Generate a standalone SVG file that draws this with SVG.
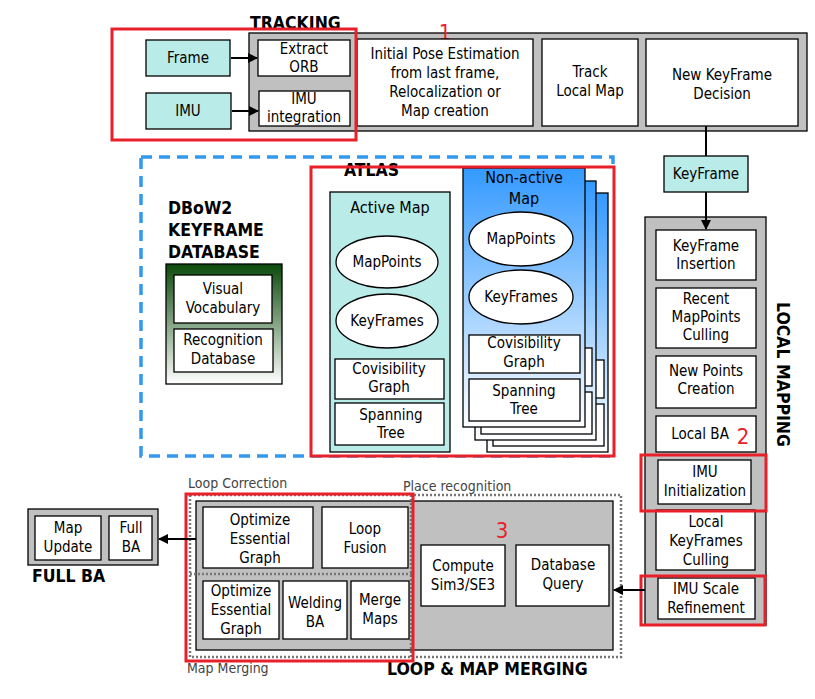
<svg xmlns="http://www.w3.org/2000/svg" width="815" height="699" viewBox="0 0 815 699">
<style>
text{font-family:"DejaVu Sans Condensed","DejaVu Sans",sans-serif;font-size:15px;fill:#000;text-anchor:middle}
.b{font-weight:bold;font-size:17.5px;text-anchor:start}
.w{fill:#fff;stroke:#000;stroke-width:1.3}
.t{fill:#b9ebe8;stroke:#000;stroke-width:1.3}
.g{fill:#c0c0c0;stroke:#000;stroke-width:1.3}
.r{fill:none;stroke:#e8202a;stroke-width:3}
.n{fill:#e8202a;font-size:22px}
.lbl{fill:#444;text-anchor:start;font-size:14px}
.c{stroke:#000;stroke-width:2;fill:none}
</style>
<defs>
<marker id="a" viewBox="0 0 10 10" refX="9" refY="5" markerWidth="5" markerHeight="5" orient="auto"><path d="M0,0L10,5L0,10z"/></marker>
<linearGradient id="gb" x1="0" y1="0" x2="0" y2="1"><stop offset="0" stop-color="#3399ff"/><stop offset="1" stop-color="#fff"/></linearGradient>
<linearGradient id="gg" x1="0" y1="0" x2="0" y2="1"><stop offset="0" stop-color="#0b4a0b"/><stop offset="1" stop-color="#fff"/></linearGradient>
</defs>

<g id="tracking">
<rect class="g" x="249" y="33" width="558" height="98"/>
<text class="b" x="250" y="29">TRACKING</text>
<text class="n" x="445" y="40">1</text>
</g>
<g id="frame"><rect class="t" x="146" y="40" width="84" height="36"/><text x="188" y="63">Frame</text></g>
<g id="imu"><rect class="t" x="146" y="93" width="85" height="36"/><text x="188" y="116">IMU</text></g>
<g id="orb"><rect class="w" x="258" y="40" width="92" height="36"/><text x="304" y="54">Extract</text><text x="304" y="72">ORB</text></g>
<g id="imuint"><rect class="w" x="259" y="91" width="91" height="35"/><text x="304" y="104">IMU</text><text x="304" y="122">integration</text></g>
<g id="initpose"><rect class="w" x="357" y="39" width="176" height="87"/><text x="445" y="59">Initial Pose Estimation</text><text x="445" y="78">from last frame,</text><text x="445" y="97">Relocalization or</text><text x="445" y="116">Map creation</text></g>
<g id="tlm"><rect class="w" x="542" y="39" width="96" height="87"/><text x="590" y="77">Track</text><text x="590" y="96">Local Map</text></g>
<g id="nkd"><rect class="w" x="646" y="39" width="152" height="87"/><text x="722" y="80">New KeyFrame</text><text x="722" y="99">Decision</text></g>
<rect class="r" x="112" y="29" width="244" height="111"/>

<g id="keyframe"><rect class="t" x="664" y="156" width="84" height="36"/><text x="706" y="179">KeyFrame</text></g>

<g id="localmapping">
<rect class="g" x="645" y="217" width="121" height="408"/>
<text class="b" x="0" y="0" transform="translate(777,302) rotate(90)">LOCAL MAPPING</text>
<rect class="w" x="656" y="230" width="100" height="50"/><text x="706" y="251">KeyFrame</text><text x="706" y="269">Insertion</text>
<rect class="w" x="656" y="288" width="100" height="60"/><text x="706" y="304">Recent</text><text x="706" y="322">MapPoints</text><text x="706" y="340">Culling</text>
<rect class="w" x="656" y="356" width="100" height="52"/><text x="706" y="376">New Points</text><text x="706" y="394">Creation</text>
<rect class="w" x="656" y="416" width="100" height="36"/><text x="700" y="439">Local BA</text>
<text class="n" x="743" y="444">2</text>
<rect class="w" x="658" y="460" width="93" height="44"/><text x="705" y="477">IMU</text><text x="705" y="496">Initialization</text>
<rect class="w" x="656" y="510" width="99" height="60"/><text x="706" y="527">Local</text><text x="706" y="546">KeyFrames</text><text x="706" y="565">Culling</text>
<rect class="w" x="658" y="578" width="97" height="41"/><text x="706" y="594">IMU Scale</text><text x="706" y="613">Refinement</text>
<rect class="r" x="641" y="455" width="125" height="56"/>
<rect class="r" x="641" y="576" width="124" height="49"/>
</g>

<g id="dbow">
<rect x="141" y="157" width="472" height="299" fill="none" stroke="#3399ee" stroke-width="3.5" stroke-dasharray="11,7"/>
<text class="b" x="168" y="214">DBoW2</text><text class="b" x="168" y="236">KEYFRAME</text><text class="b" x="168" y="258">DATABASE</text>
<rect x="166" y="264" width="116" height="120" fill="url(#gg)" stroke="#000" stroke-width="1.3"/>
<rect class="w" x="174" y="275" width="98" height="48"/><text x="223" y="294">Visual</text><text x="223" y="313">Vocabulary</text>
<rect class="w" x="174" y="329" width="99" height="43"/><text x="223" y="345">Recognition</text><text x="223" y="364">Database</text>
</g>

<g id="atlas">
<rect x="310" y="166" width="305" height="291" fill="#fff"/>
<text class="b" x="344" y="176">ATLAS</text>
<rect class="t" x="330" y="192" width="120" height="260"/>
<text x="390" y="213" style="font-size:16px">Active Map</text>
<ellipse class="w" cx="387" cy="262" rx="51" ry="26"/><text x="387" y="267">MapPoints</text>
<ellipse class="w" cx="387" cy="321" rx="51" ry="27"/><text x="387" y="326">KeyFrames</text>
<rect class="w" x="335" y="359" width="109" height="40"/><text x="389" y="374">Covisibility</text><text x="389" y="392">Graph</text>
<rect class="w" x="335" y="403" width="109" height="42"/><text x="391" y="420">Spanning</text><text x="391" y="438">Tree</text>
</g>

<g id="nonactive">
<rect x="487" y="193" width="121" height="259" fill="url(#gb)" stroke="#000" stroke-width="1.3"/>
<rect class="w" x="493" y="360" width="111" height="38"/><rect class="w" x="493" y="404" width="111" height="42"/>
<rect x="475" y="181" width="121" height="259" fill="url(#gb)" stroke="#000" stroke-width="1.3"/>
<rect class="w" x="481" y="348" width="111" height="38"/><rect class="w" x="481" y="392" width="111" height="42"/>
<rect x="463" y="168" width="122" height="259" fill="url(#gb)" stroke="#000" stroke-width="1.3"/>
<text x="524" y="183" style="font-size:16px">Non-active</text><text x="524" y="204" style="font-size:16px">Map</text>
<ellipse class="w" cx="521" cy="239" rx="52" ry="27"/><text x="521" y="244">MapPoints</text>
<ellipse class="w" cx="521" cy="297" rx="52" ry="27"/><text x="521" y="302">KeyFrames</text>
<rect class="w" x="469" y="335" width="111" height="38"/><text x="524" y="348">Covisibility</text><text x="524" y="367">Graph</text>
<rect class="w" x="469" y="379" width="111" height="42"/><text x="524" y="396">Spanning</text><text x="524" y="414">Tree</text>
</g>
<rect class="r" x="311" y="167" width="303" height="289"/>

<g id="loopmerge">
<text class="lbl" x="188" y="488">Loop Correction</text>
<text class="lbl" x="403" y="491">Place recognition</text>
<rect x="190" y="495" width="431" height="162" fill="none" stroke="#777" stroke-width="2.5" stroke-dasharray="2,2"/>
<rect class="g" x="196" y="501" width="417" height="149"/>
<line x1="190" y1="574" x2="412" y2="574" stroke="#777" stroke-width="2.5" stroke-dasharray="2,2"/>
<line x1="411" y1="495" x2="411" y2="657" stroke="#777" stroke-width="2.5" stroke-dasharray="2,2"/>
<rect class="w" x="203" y="507" width="110" height="61"/><text x="260" y="525">Optimize</text><text x="260" y="544">Essential</text><text x="260" y="563">Graph</text>
<rect class="w" x="322" y="507" width="86" height="61"/><text x="365" y="534">Loop</text><text x="365" y="553">Fusion</text>
<rect class="w" x="203" y="581" width="76" height="58"/><text x="241" y="596">Optimize</text><text x="241" y="615">Essential</text><text x="241" y="634">Graph</text>
<rect class="w" x="283" y="581" width="64" height="58"/><text x="315" y="608">Welding</text><text x="315" y="627">BA</text>
<rect class="w" x="351" y="581" width="58" height="58"/><text x="380" y="605">Merge</text><text x="380" y="624">Maps</text>
<rect class="w" x="421" y="545" width="84" height="61"/><text x="463" y="571">Compute</text><text x="463" y="590">Sim3/SE3</text>
<rect class="w" x="516" y="545" width="93" height="61"/><text x="563" y="570">Database</text><text x="563" y="589">Query</text>
<text class="n" x="502" y="538">3</text>
<text class="lbl" x="187" y="673">Map Merging</text>
<text class="b" x="387" y="675">LOOP &amp; MAP MERGING</text>
<rect class="r" x="186" y="494" width="227" height="167"/>
</g>

<g id="fullba">
<rect class="g" x="28" y="509" width="130" height="56"/>
<rect class="w" x="35" y="516" width="66" height="44"/><text x="68" y="533">Map</text><text x="68" y="552">Update</text>
<rect class="w" x="109" y="516" width="43" height="44"/><text x="131" y="533">Full</text><text x="131" y="552">BA</text>
<text class="b" x="32" y="582">FULL BA</text>
</g>

<g id="connectors">
<line class="c" x1="231" y1="58" x2="257" y2="58" marker-end="url(#a)"/>
<line class="c" x1="232" y1="111" x2="258" y2="111" marker-end="url(#a)"/>
<line class="c" x1="706" y1="126" x2="706" y2="156"/>
<line class="c" x1="706" y1="192" x2="706" y2="229" marker-end="url(#a)"/>
<line class="c" x1="196" y1="539" x2="159" y2="539" marker-end="url(#a)"/>
<line class="c" x1="645" y1="590" x2="614" y2="590" marker-end="url(#a)"/>
</g>
</svg>
